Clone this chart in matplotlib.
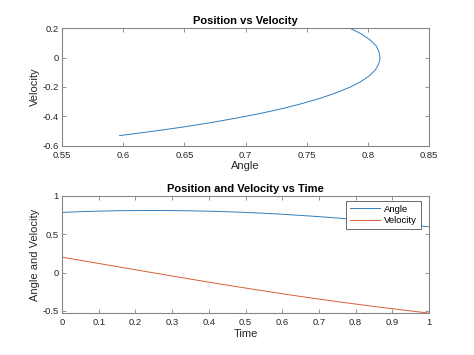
import matplotlib
matplotlib.use('Agg')
import matplotlib.pyplot as plt
from matplotlib.ticker import FormatStrFormatter, MultipleLocator

# 数据：时间、角度、角速度
time = [0.00, 0.05, 0.10, 0.15, 0.20, 0.25, 0.30, 0.35, 0.40, 0.45, 0.50,
        0.55, 0.60, 0.65, 0.70, 0.75, 0.80, 0.85, 0.90, 0.95, 1.00]
angle = [0.785, 0.795, 0.802, 0.807, 0.8092, 0.810, 0.8088, 0.806, 0.801, 0.794, 0.785,
         0.774, 0.761, 0.746, 0.730, 0.712, 0.692, 0.671, 0.648, 0.623, 0.597]
velocity = [0.200, 0.159, 0.118, 0.077, 0.036, -0.005, -0.046, -0.086, -0.126, -0.165, -0.203,
            -0.240, -0.277, -0.313, -0.347, -0.380, -0.412, -0.443, -0.473, -0.502, -0.530]

plt.rcParams['font.family'] = ['Liberation Sans', 'DejaVu Sans']
plt.rcParams['axes.unicode_minus'] = False

AX_COLOR = '#262626'
SPINE = '#858585'
BLUE = '#2f7fbf'
ORANGE = '#d9603a'


def matlab_style(ax):
    for sp in ax.spines.values():
        sp.set_color(SPINE)
        sp.set_linewidth(0.8)
    ax.tick_params(direction='in', top=True, right=True, length=3, width=0.6,
                   color=SPINE, labelcolor=AX_COLOR, labelsize=6.8)
    ax.tick_params(axis='x', pad=3.5)
    ax.tick_params(axis='y', pad=2.5)
    ax.xaxis.set_major_formatter(FormatStrFormatter('%g'))
    ax.yaxis.set_major_formatter(FormatStrFormatter('%g'))


fig = plt.figure(figsize=(4.74, 3.55), dpi=100)

# 上图：角度-速度相图
ax1 = fig.add_axes([0.131, 0.589, 0.774, 0.332])
ax1.plot(angle, velocity, color=BLUE, linewidth=0.7)
ax1.set_xlim(0.55, 0.85)
ax1.set_ylim(-0.6, 0.2)
ax1.xaxis.set_major_locator(MultipleLocator(0.05))
ax1.yaxis.set_major_locator(MultipleLocator(0.2))
matlab_style(ax1)
ax1.set_title('Position vs Velocity', fontsize=8, fontweight='bold', color='black', pad=3)
ax1.set_xlabel('Angle', fontsize=8, color=AX_COLOR, labelpad=1)
ax1.set_ylabel('Velocity', fontsize=8, color=AX_COLOR, labelpad=2)

# 下图：角度和速度随时间变化
ax2 = fig.add_axes([0.131, 0.117, 0.774, 0.331])
ax2.plot(time, angle, color=BLUE, linewidth=0.7, label='Angle')
ax2.plot(time, velocity, color=ORANGE, linewidth=0.7, label='Velocity')
ax2.set_xlim(0, 1)
ax2.set_ylim(-0.535, 1)
ax2.xaxis.set_major_locator(MultipleLocator(0.1))
ax2.yaxis.set_major_locator(MultipleLocator(0.5))
matlab_style(ax2)
ax2.set_title('Position and Velocity vs Time', fontsize=8, fontweight='bold', color='black', pad=3)
ax2.set_xlabel('Time', fontsize=8, color=AX_COLOR, labelpad=1)
ax2.set_ylabel('Angle and Velocity', fontsize=8, color=AX_COLOR, labelpad=2)

leg = ax2.legend(loc='upper right', fontsize=6.8, fancybox=False, framealpha=1,
                 edgecolor='#555555', handlelength=3.2, borderpad=0.4,
                 labelspacing=0.25, handletextpad=0.4, borderaxespad=0,
                 bbox_to_anchor=(0.977, 0.957))
leg.get_frame().set_linewidth(0.6)

fig.savefig('out.png', dpi=100)
